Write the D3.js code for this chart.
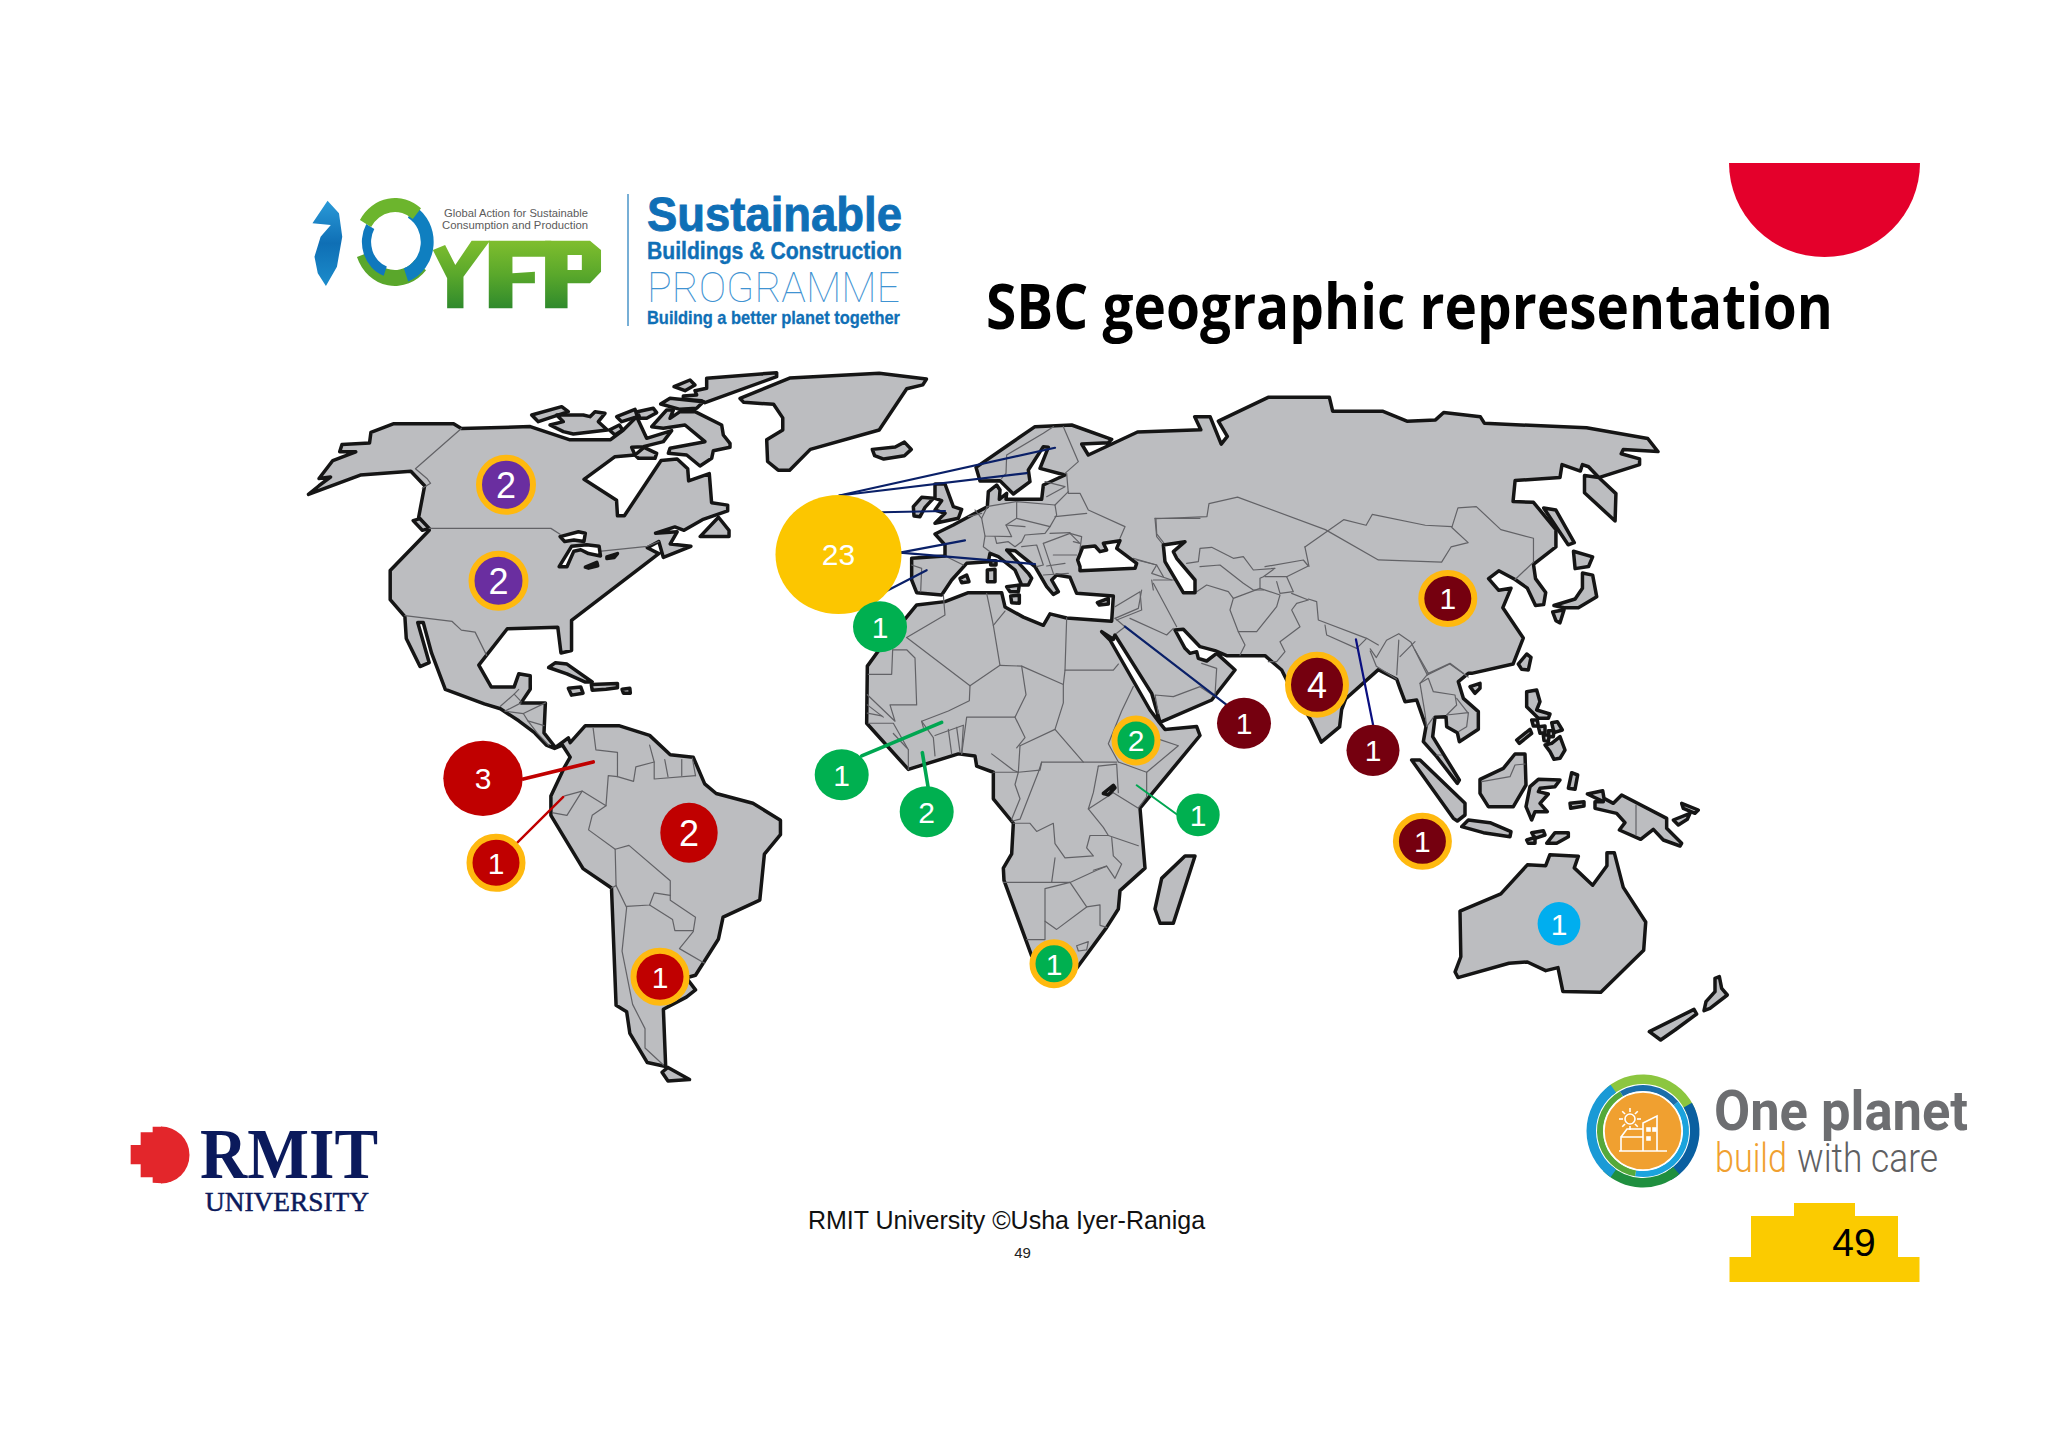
<!DOCTYPE html>
<html>
<head>
<meta charset="utf-8">
<title>SBC geographic representation</title>
<script src="https://cdn.jsdelivr.net/npm/d3@7"></script>
<style>
    html, body { margin: 0; padding: 0; background: #fff; }
    svg { display: block; }
    text { font-family: "Liberation Sans", Arial, sans-serif; }
</style>
</head>
<body>
<svg id="slide" width="2048" height="1447"></svg>
<script>
// Marker data (x/y are map positions)
const markerValues = [2, 2, 3, 1, 2, 1, 23, 1, 1, 2, 2, 1, 1, 1, 4, 1, 1, 1, 1];
const markerRegion = ["na", "na", "lac", "lac", "lac", "lac", "eur", "afr", "afr", "afr", "afr", "afr", "afr", "asia", "asia", "asia", "asia", "asia", "oce"];
const markerRing = [1, 1, 0, 1, 0, 1, 0, 0, 0, 0, 1, 0, 1, 0, 1, 0, 1, 1, 0];
const markerX = [506, 498.5, 483, 496, 689, 660, 838.5, 880, 841.7, 926.7, 1136, 1198, 1054, 1244, 1317, 1373, 1447.8, 1422.4, 1559];
const markerY = [484, 580, 777.5, 862, 832, 976, 553.7, 626, 774, 811, 739.6, 814, 963, 722.4, 684, 749.5, 597.7, 840.5, 923];
const markerRx = [30, 30, 39.7, 29.5, 28.7, 29.5, 63, 27, 27, 27, 24.5, 21.7, 24.5, 27, 32, 26.5, 29.5, 29.5, 21.4];
const markerRy = [30, 30, 37.6, 29, 30, 29, 59.6, 25.5, 25.5, 25.5, 25, 21.4, 24.5, 25.5, 33, 25.6, 28.5, 28.5, 21.7];

const regionColor = { na: "#6a2ea0", lac: "#c00000", eur: "#fcc600", afr: "#00b050", asia: "#75000f", oce: "#00aeef" };

// Leader lines from the bubbles to their countries
const leadersEur = [[[238, 332], [885, 215]], [[238, 332], [800, 277]], [[365, 373], [555, 370]],
    [[420, 472], [615, 442]], [[420, 472], [825, 500]], [[365, 572], [500, 515]], [[1095, 653], [1400, 845]]];
const leadersAfrThick = [[[305, 970], [545, 888]], [[505, 1050], [487, 962]]];
const leaderKenya = [[1250, 1113], [1130, 1042]];
const leaderIndia = [[725, 598], [767, 795]];
const leadersLac = [[[530, 885], [682, 850]], [[513, 1020], [617, 922]]];

// Traced outlines. Each list is in the units of the crop it was read from.
const northSouthAmericaA = [[62, 298], [85, 280], [110, 262], [85, 265], [115, 228], [165, 210], [130, 210], [135, 195], [195, 192], [198, 170], [248, 152], [378, 152], [395, 162], [545, 158], [630, 185], [720, 185]];
const canadaCoastR = [[310, 210], [350, 170], [380, 235], [455, 212], [430, 245], [370, 260], [335, 262], [345, 285], [285, 290], [192, 358]];
const northSouthAmericaB = [[733, 310], [735, 342], [750, 342], [830, 228], [865, 225], [888, 245], [890, 270], [935, 255], [940, 315], [975, 320], [975, 332], [920, 350], [880, 372], [860, 365], [818, 378], [865, 375], [850, 400], [895, 405], [835, 428], [825, 395], [800, 408], [825, 420], [635, 558], [635, 620], [612, 625], [605, 572], [495, 575], [433, 650], [460, 695], [510, 695], [520, 668], [545, 672], [545, 700], [525, 728], [578, 728], [575, 790], [600, 820], [628, 800], [632, 810], [665, 775], [738, 775], [805, 795], [850, 835], [900, 840], [925, 895], [950, 915], [1030, 935], [1090, 970], [1090, 1000], [1055, 1040], [1045, 1135], [965, 1170], [955, 1215], [905, 1290], [885, 1295], [905, 1320], [885, 1335], [835, 1360], [840, 1478], [800, 1470], [762, 1410], [755, 1365], [732, 1352], [722, 1110], [660, 1070], [590, 960], [590, 920], [620, 860], [632, 840], [615, 815], [598, 822], [580, 815], [555, 790], [520, 765], [480, 740], [445, 730], [360, 700], [330, 625], [312, 562], [300, 562], [325, 645], [305, 653], [275, 595], [272, 550], [240, 515], [240, 455], [325, 372], [302, 345], [315, 280], [285, 250], [175, 258]];

const eurasiaNorth = [[228, 172], [325, 105], [405, 50], [515, 45], [635, 88], [625, 98], [545, 102], [565, 135]];
const russiaChinaCoast = [[190, 120], [345, 115], [330, 85], [368, 85], [395, 148], [410, 130], [388, 95], [510, 40], [660, 40], [668, 72], [790, 72], [850, 95], [920, 92], [940, 75], [1030, 85], [1040, 100], [1290, 110], [1440, 135], [1465, 165], [1380, 160], [1375, 170], [1420, 182], [1420, 195], [1320, 225], [1295, 200], [1280, 195], [1275, 210], [1230, 195], [1225, 225], [1115, 232], [1110, 280], [1160, 282], [1215, 345], [1215, 385], [1160, 425], [1165, 458], [1190, 490], [1185, 518], [1165, 520], [1145, 480], [1115, 460], [1075, 440], [1050, 458], [1075, 485], [1105, 480], [1085, 525], [1135, 595], [1110, 655]];
const indochinaCoast = [[215, 100], [205, 100], [175, 125], [190, 175], [235, 215], [235, 268], [178, 305], [172, 278], [140, 260], [138, 230], [105, 232], [98, 290], [178, 420], [172, 430], [110, 350], [70, 305], [78, 260], [50, 180], [15, 185], [0, 145]];
const bengalCoast = [[825, 690], [780, 668], [700, 735], [690, 760], [685, 800], [640, 835], [615, 785]];
const arabiaCoast = [[560, 480], [545, 450], [495, 407], [380, 407], [345, 392], [300, 380], [250, 328], [225, 330], [255, 385], [270, 400], [290, 395], [295, 415], [320, 423], [350, 400], [405, 450], [335, 540], [180, 607], [155, 520], [45, 345], [40, 358], [5, 335], [30, 360], [150, 570], [178, 607]];
const africaCoast = [[1215, 905], [1310, 898], [1320, 920], [1140, 1098], [1155, 1245], [1080, 1300], [1075, 1345], [1040, 1390], [950, 1490], [815, 1460], [732, 1275], [730, 1245], [755, 1210], [760, 1135], [700, 1075], [700, 1010], [650, 995], [645, 970], [595, 965], [445, 1003], [320, 890], [322, 750], [362, 705], [430, 640], [470, 600], [555, 592], [625, 570], [725, 570], [735, 605], [790, 630], [850, 650], [870, 622], [920, 632], [1055, 640]];
const europeSouthCoast = [[640, 558], [530, 550], [510, 502], [470, 495], [455, 510], [475, 545], [460, 553], [440, 530], [405, 470], [345, 422], [320, 420], [385, 490], [395, 505], [385, 525], [365, 525], [345, 480], [295, 440], [270, 430], [265, 455], [200, 460], [155, 510], [125, 555], [50, 548], [35, 510], [35, 445], [135, 438], [135, 405], [105, 372], [160, 345], [262, 290], [265, 245], [290, 225], [300, 240], [298, 268], [320, 250], [318, 268], [425, 268], [430, 225], [495, 195], [420, 175], [445, 112], [430, 110], [385, 180], [390, 215], [340, 252], [300, 212], [240, 213]];

const islandsA = [
    [[290, 352], [305, 348], [325, 368], [310, 372]],
    [[1002, 100], [1110, 58], [1305, 48], [1408, 60], [1400, 72], [1365, 80], [1305, 165], [1155, 205], [1110, 248], [1085, 248], [1062, 230], [1060, 185], [1095, 165], [1095, 140], [1075, 112], [1010, 108]],
    [[1290, 205], [1340, 200], [1360, 190], [1375, 205], [1360, 218], [1315, 225], [1295, 218]],
    [[915, 385], [955, 345], [978, 372], [978, 385]],
    [[585, 655], [600, 645], [625, 648], [680, 685], [665, 685], [625, 668]],
    [[678, 690], [735, 688], [735, 697], [710, 700], [680, 702]],
    [[628, 698], [655, 695], [660, 708], [635, 712]],
    [[745, 700], [762, 698], [763, 708], [748, 708]],
    [[832, 1490], [845, 1480], [892, 1505], [845, 1508]]
];
const islandsArctic = [
    [[35, 165], [125, 140], [145, 155], [55, 185]],
    [[90, 195], [130, 185], [110, 165], [190, 165], [210, 170], [225, 155], [255, 160], [235, 185], [262, 210], [160, 222], [130, 215]],
    [[268, 210], [298, 195], [308, 210], [285, 225]],
    [[290, 170], [345, 148], [352, 170], [305, 185]],
    [[352, 155], [400, 145], [410, 158], [380, 175], [360, 175]],
    [[395, 200], [440, 150], [460, 150], [450, 175], [480, 155], [525, 155], [605, 195], [610, 225], [630, 250], [630, 262], [580, 272], [575, 295], [540, 318], [500, 285], [445, 280], [450, 265], [555, 245], [495, 195], [430, 205]],
    [[560, 55], [770, 38], [770, 50], [555, 128], [545, 122], [490, 118], [490, 108], [530, 105], [525, 92], [560, 85]],
    [[462, 80], [510, 60], [525, 75], [495, 92]],
    [[422, 132], [450, 115], [550, 125], [530, 145], [480, 148]],
    [[345, 285], [372, 262], [410, 280], [405, 295], [355, 295]]
];
const islandsEurope = [
    [[105, 222], [135, 222], [160, 290], [185, 298], [175, 325], [105, 340], [135, 310], [105, 300], [125, 272], [105, 265]],
    [[40, 290], [65, 262], [100, 265], [75, 292], [60, 320], [42, 318]],
    [[262, 480], [285, 478], [285, 515], [262, 515]],
    [[272, 452], [288, 452], [288, 465], [272, 465]],
    [[180, 505], [200, 495], [207, 515], [185, 518]],
    [[320, 530], [358, 525], [355, 545], [330, 545]],
    [[332, 558], [358, 555], [358, 580], [335, 578]],
    [[592, 578], [625, 565], [625, 582], [598, 585]]
];
const islandsAfrica = [[[1185, 1345], [1205, 1270], [1275, 1215], [1305, 1215], [1240, 1380], [1200, 1380]]];
const islandsEastAsia = [
    [[1185, 295], [1215, 300], [1260, 375], [1245, 380]],
    [[1258, 395], [1305, 408], [1295, 430], [1262, 435]],
    [[1280, 445], [1305, 450], [1315, 500], [1270, 525], [1235, 525], [1210, 520], [1262, 505], [1280, 480]],
    [[1207, 535], [1235, 530], [1225, 560], [1215, 555]],
    [[1285, 220], [1320, 225], [1362, 262], [1360, 325], [1285, 260]],
    [[980, 1225], [1080, 1185], [1145, 1118], [1190, 1120], [1200, 1095], [1270, 1098], [1260, 1125], [1305, 1165], [1340, 1120], [1340, 1090], [1358, 1090], [1380, 1170], [1435, 1250], [1430, 1315], [1325, 1412], [1232, 1410], [1220, 1355], [1190, 1362], [1145, 1342], [1100, 1345], [975, 1378], [968, 1365], [982, 1330]]
];
const islandsSouthEast = [
    [[355, 72], [380, 42], [393, 52], [385, 90], [365, 88]],
    [[210, 140], [240, 130], [240, 145], [225, 160]],
    [[380, 155], [410, 150], [420, 185], [410, 210], [450, 222], [445, 235], [415, 235], [380, 200]],
    [[435, 315], [455, 310], [480, 290], [495, 330], [480, 355], [462, 358], [450, 335]],
    [[395, 240], [412, 240], [415, 258], [400, 258]],
    [[415, 260], [435, 258], [435, 278], [420, 280]],
    [[455, 248], [472, 245], [487, 270], [462, 278]],
    [[430, 285], [448, 285], [445, 305], [432, 302]],
    [[445, 272], [462, 272], [460, 290], [447, 290]],
    [[350, 300], [390, 268], [395, 280], [358, 310]],
    [[240, 418], [310, 385], [345, 342], [375, 342], [378, 435], [340, 500], [265, 500], [240, 460]],
    [[390, 440], [415, 418], [480, 420], [465, 440], [420, 445], [415, 455], [445, 462], [420, 490], [442, 515], [405, 515], [395, 540], [378, 500]],
    [[505, 445], [515, 398], [533, 405], [525, 448]],
    [[510, 490], [552, 485], [552, 498], [512, 505]],
    [[35, 360], [60, 360], [195, 490], [195, 525], [172, 543], [160, 535]],
    [[185, 560], [205, 540], [270, 548], [333, 575], [330, 590], [250, 578]],
    [[440, 610], [465, 578], [505, 578], [505, 590], [470, 610]],
    [[395, 578], [430, 572], [435, 585], [405, 595]],
    [[380, 600], [405, 592], [405, 610], [385, 610]],
    [[562, 462], [608, 452], [612, 475], [640, 490], [665, 465], [800, 535], [800, 565], [845, 610], [840, 618], [790, 600], [760, 568], [722, 598], [658, 570], [675, 548], [650, 520], [585, 505], [585, 485], [610, 485]],
    [[820, 540], [870, 520], [862, 538], [835, 555]],
    [[845, 490], [895, 510], [885, 520], [850, 505]]
];
const islandsNewZealand = [
    [[88, 215], [222, 148], [230, 162], [165, 210], [122, 240]],
    [[252, 152], [258, 125], [285, 95], [285, 55], [298, 50], [305, 85], [322, 105], [270, 145]]
];

// Water inside the land
const watersA = [
    [[610, 385], [650, 375], [665, 378], [662, 395], [640, 392], [620, 395]],
    [[608, 447], [635, 405], [668, 402], [695, 405], [698, 425], [672, 420], [655, 412], [640, 415], [625, 447]],
    [[665, 448], [690, 438], [692, 445], [672, 450]],
    [[712, 427], [735, 420], [728, 428], [712, 430]]
];
const watersEurope = [
    [[540, 470], [533, 450], [548, 412], [585, 408], [600, 425], [620, 420], [610, 400], [660, 392], [650, 415], [690, 445], [710, 460], [705, 475], [540, 482]],
    [[790, 405], [855, 395], [820, 425], [830, 445], [885, 510], [885, 548], [850, 548], [795, 455]]
];
const watersAfrica = [[[1030, 1062], [1060, 1042], [1065, 1048], [1045, 1065]]];

// Country borders
const bordersA = [
    [[395, 162], [295, 245], [320, 265], [328, 275], [310, 285]],
    [[325, 368], [590, 368], [610, 380]], [[700, 415], [800, 405], [825, 395]],
    [[272, 548], [375, 560], [395, 578], [425, 582], [450, 630]],
    [[480, 735], [510, 710], [525, 725]], [[510, 710], [520, 700]],
    [[525, 728], [490, 745], [530, 750], [578, 728]], [[530, 750], [540, 765], [575, 775]], [[540, 765], [560, 790], [585, 815]],
    [[682, 780], [688, 825], [735, 830], [735, 880], [770, 890], [775, 860], [815, 850], [805, 815]],
    [[815, 850], [815, 885], [905, 878]], [[845, 880], [838, 845]], [[875, 878], [875, 845]], [[905, 878], [898, 842]],
    [[735, 880], [715, 878], [710, 940], [658, 910], [625, 960], [595, 955]], [[620, 920], [658, 910]],
    [[710, 940], [680, 960], [672, 990], [730, 1030], [760, 1022], [850, 1095], [850, 1135], [905, 1170], [900, 1200], [870, 1235], [925, 1265]],
    [[730, 1030], [732, 1105], [755, 1150], [745, 1240], [768, 1350], [795, 1400], [795, 1440], [835, 1475]], [[722, 1110], [732, 1105]],
    [[755, 1148], [805, 1145], [815, 1120], [850, 1125]], [[805, 1145], [855, 1175], [860, 1198], [900, 1198]]
];
const bordersAfrica = [
    [[440, 680], [555, 625], [550, 575]], [[398, 710], [395, 770], [325, 770]],
    [[440, 680], [630, 798], [720, 748], [700, 650], [680, 572]], [[700, 650], [735, 615]],
    [[920, 632], [915, 760]], [[720, 748], [785, 750], [910, 795], [915, 760], [1060, 760], [1075, 745]],
    [[398, 710], [440, 710], [465, 730], [470, 845], [390, 845], [405, 885], [322, 820]],
    [[630, 798], [628, 835], [565, 860], [485, 885], [490, 900]],
    [[785, 750], [798, 820], [765, 875], [620, 875], [605, 965]],
    [[910, 795], [910, 840], [885, 905], [780, 945]], [[885, 905], [970, 985], [1070, 985]],
    [[1120, 800], [1085, 860], [1045, 940], [1075, 985]],
    [[780, 945], [775, 1010], [840, 1005], [845, 985], [970, 985]],
    [[765, 875], [795, 925], [770, 950]], [[775, 1010], [760, 1005], [695, 965]],
    [[700, 1010], [775, 1010], [765, 1040], [780, 1075], [755, 1125]], [[845, 985], [835, 1010], [780, 1125], [755, 1130]],
    [[1015, 995], [1000, 1060], [985, 1100], [1030, 1145], [1045, 1165], [990, 1165], [980, 1195], [1000, 1215], [915, 1220], [885, 1185], [880, 1135], [830, 1155], [810, 1135], [760, 1135]],
    [[1015, 995], [1070, 990], [1075, 1060]], [[1075, 985], [1160, 1010], [1160, 1070], [1135, 1098], [1060, 1060]],
    [[1160, 1010], [1255, 945], [1200, 930]], [[985, 1100], [1060, 1060]], [[1045, 1165], [1135, 1190]],
    [[1055, 1170], [1060, 1215], [1085, 1235], [1065, 1270], [1040, 1240], [1000, 1250]],
    [[730, 1280], [875, 1280], [885, 1220]], [[875, 1280], [930, 1280], [1010, 1250], [1040, 1240]],
    [[855, 1295], [930, 1280], [980, 1340], [890, 1395], [855, 1375], [855, 1295]],
    [[980, 1340], [1020, 1335], [1020, 1385], [1040, 1390]], [[800, 1420], [855, 1420], [855, 1375]],
    [[950, 1435], [985, 1425], [980, 1445], [955, 1448], [950, 1435]],
    [[322, 845], [370, 875]], [[322, 865], [365, 872]], [[325, 890], [400, 890], [445, 955]],
    [[485, 885], [520, 925], [525, 970]], [[565, 905], [575, 965]], [[590, 900], [600, 960]], [[610, 895], [605, 965]],
    [[445, 955], [445, 1003]], [[400, 915], [440, 950]], [[525, 920], [610, 895]]
];
const bordersEurope = [
    [[460, 50], [430, 70], [320, 135], [318, 190], [305, 205]], [[490, 50], [535, 155], [495, 190]],
    [[435, 215], [495, 230], [440, 260]], [[505, 245], [465, 285]],
    [[500, 190], [505, 250], [540, 250], [565, 300], [675, 350], [660, 385]],
    [[350, 275], [465, 285], [470, 315], [450, 350], [350, 325], [350, 275]],
    [[260, 290], [348, 275]], [[350, 325], [318, 345], [335, 380], [255, 378], [245, 325], [262, 290]],
    [[205, 320], [245, 310]], [[225, 300], [245, 325]], [[255, 378], [250, 410], [270, 425]],
    [[135, 438], [190, 465]], [[35, 465], [65, 475], [62, 545]],
    [[285, 380], [290, 400], [325, 395], [345, 410], [365, 395], [375, 375], [435, 370], [450, 350]],
    [[318, 345], [375, 350]], [[430, 400], [510, 370], [545, 380], [535, 455]],
    [[465, 320], [560, 310]], [[450, 370], [510, 368]],
    [[460, 435], [530, 435]], [[495, 460], [440, 468]], [[365, 410], [410, 405], [430, 465], [410, 470]], [[430, 400], [460, 490]],
    [[430, 495], [505, 490]], [[510, 370], [540, 400], [520, 395]],
    [[700, 445], [770, 465], [790, 500]], [[755, 510], [760, 540]], [[760, 520], [830, 650]],
    [[645, 590], [720, 545], [725, 600], [650, 630]], [[765, 325], [770, 380], [790, 405]], [[765, 325], [900, 325]]
];
const bordersMiddleEast = [
    [[125, 210], [115, 265], [45, 295]], [[45, 295], [75, 320], [50, 340]], [[90, 295], [200, 345], [220, 325]],
    [[110, 120], [170, 135], [155, 160], [215, 180]], [[160, 180], [240, 180]],
    [[290, 215], [320, 195], [385, 215], [400, 235], [390, 270], [415, 335], [435, 375], [420, 405]],
    [[415, 335], [470, 335], [530, 260], [540, 225], [480, 205], [400, 235]],
    [[260, 130], [295, 125], [300, 85], [335, 82], [400, 115], [430, 110], [460, 150], [525, 145], [490, 170], [480, 175], [480, 205]],
    [[300, 140], [360, 135], [430, 190], [460, 210], [490, 210]],
    [[575, 220], [625, 240], [590, 250], [575, 270], [600, 320], [540, 365], [555, 395], [530, 425], [505, 425]],
    [[625, 237], [650, 245], [655, 300], [800, 355], [835, 375]], [[675, 315], [680, 345], [770, 385], [800, 355]],
    [[495, 170], [560, 170], [580, 215], [540, 220], [530, 185]], [[495, 140], [610, 120], [625, 138], [560, 170]],
    [[345, 530], [300, 500], [220, 530], [165, 525], [175, 580]], [[345, 525], [350, 445], [305, 430]]
];
const bordersEastAsia = [
    [[235, 320], [360, 315], [365, 285], [435, 270], [650, 345], [780, 415], [935, 420], [958, 385], [1000, 375], [960, 340], [975, 295], [1020, 292], [1080, 345], [1160, 365], [1160, 420], [1115, 460]],
    [[600, 385], [695, 322], [750, 335], [765, 310], [895, 335], [960, 338]], [[600, 385], [610, 430]],
    [[235, 320], [237, 355], [258, 380]],
    [[760, 620], [775, 640], [800, 600], [830, 585], [860, 605], [900, 680]], [[760, 625], [775, 660], [825, 690]],
    [[830, 600], [825, 680]], [[900, 680], [955, 655], [1000, 685]]
];
const bordersSouthEast = [
    [[60, 130], [85, 115], [100, 155], [165, 165], [170, 195], [140, 225]], [[170, 175], [205, 220], [200, 260], [175, 275]],
    [[140, 225], [205, 218]], [[85, 100], [60, 130], [75, 220], [80, 260], [100, 232]], [[0, 50], [45, 5]], [[45, 30], [85, 100], [150, 70], [190, 100]],
    [[110, 345], [125, 345]], [[245, 425], [330, 410], [345, 375], [375, 372]], [[708, 495], [708, 585]]
];

// The crops were scaled differently, so each one gets its own pair of scales
function frame(x0, y0, kx, ky) {
    const sx = d3.scaleLinear().domain([0, 1]).range([x0, x0 + 1 / kx]);
    const sy = d3.scaleLinear().domain([0, 1]).range([y0, y0 + 1 / ky]);
    return pts => pts.map(p => [sx(p[0]), sy(p[1])]);
}
const fA = frame(280, 350, 2.178, 2.063);
const fB = frame(760, 360, 3, 2.45);
const fC = frame(1060, 380, 2.45, 2.306);
const fArctic = frame(520, 360, 3, 3);
const fEu = frame(900, 410, 3, 3);
const fSE = frame(1400, 640, 3, 3);
const fME = frame(1100, 520, 3, 3);
const fNZ = frame(1620, 960, 3, 3);
const fYfp = frame(290, 170, 2.45, 3);
const fRmit = frame(110, 1100, 3, 3);

const svg = d3.select("#slide");
svg.append("rect").attr("width", 2048).attr("height", 1447).attr("fill", "#fff");

const closed = d3.line().curve(d3.curveLinearClosed);
const open = d3.line();

// Gradients for the 10YFP logo
const defs = svg.append("defs");
function gradient(id, colors) {
    const g = defs.append("linearGradient").attr("id", id).attr("x1", 0).attr("y1", 0).attr("x2", 0).attr("y2", 1);
    colors.forEach((c, i) => g.append("stop").attr("offset", i / (colors.length - 1)).attr("stop-color", c));
}
gradient("yfpGreen", ["#7fbe2e", "#5aa82b", "#2f8a2c"]);
gradient("yfpBlue", ["#2a9ad8", "#0f6fb5", "#1b8ccb"]);

// Red half disc at the top right
svg.append("path")
    .attr("transform", "translate(1824.5,163) scale(1,0.985)")
    .attr("d", d3.arc().innerRadius(0).outerRadius(95.5).startAngle(Math.PI / 2).endAngle(3 * Math.PI / 2)())
    .attr("fill", "#e4002b");

svg.append("text").attr("x", 986).attr("y", 329)
    .attr("font-size", 63).attr("font-weight", 700)
    .attr("textLength", 847).attr("lengthAdjust", "spacingAndGlyphs")
    .style("font-family", "'Open Sans', sans-serif")
    .attr("fill", "#000").text("SBC geographic representation");

// Map: land first, then borders, water, leaders, bubbles
const land = [
    [...fA(northSouthAmericaA), ...fArctic(canadaCoastR), ...fA(northSouthAmericaB)],
    [...fEu(eurasiaNorth), ...fC(russiaChinaCoast), ...fSE(indochinaCoast), ...fC(bengalCoast), ...fME(arabiaCoast), ...fB(africaCoast), ...fEu(europeSouthCoast)],
    ...islandsA.map(fA), ...islandsArctic.map(fArctic), ...islandsEurope.map(fEu), ...islandsAfrica.map(fB),
    ...islandsEastAsia.map(fC), ...islandsSouthEast.map(fSE), ...islandsNewZealand.map(fNZ)
];
const borders = [...bordersA.map(fA), ...bordersAfrica.map(fB), ...bordersEurope.map(fEu), ...bordersMiddleEast.map(fME), ...bordersEastAsia.map(fC), ...bordersSouthEast.map(fSE)];
const waters = [...watersA.map(fA), ...watersEurope.map(fEu), ...watersAfrica.map(fB)];

const map = svg.append("g").attr("stroke-linejoin", "round").attr("stroke-linecap", "round");
map.selectAll(".land").data(land).enter().append("path").attr("class", "land")
    .attr("d", closed).attr("fill", "#bcbdc0").attr("stroke", "#151515").attr("stroke-width", 3.5);
map.selectAll(".border").data(borders).enter().append("path").attr("class", "border")
    .attr("d", open).attr("fill", "none").attr("stroke", "#626266").attr("stroke-width", 1.2);
map.selectAll(".water").data(waters).enter().append("path").attr("class", "water")
    .attr("d", closed).attr("fill", "#fff").attr("stroke", "#151515").attr("stroke-width", 3.5);

function leader(pts, color, width) {
    map.append("path").attr("d", open(pts)).attr("fill", "none").attr("stroke", color).attr("stroke-width", width);
}
leadersEur.forEach(l => leader(fB(l), "#0a2068", 2.2));
leadersAfrThick.forEach(l => leader(fB(l), "#00a651", 3.6));
leader(fB(leaderKenya), "#00a651", 2);
leader(fC(leaderIndia), "#0a0f80", 2.2);
leader(fA(leadersLac[0]), "#c00000", 3.8);
leader(fA(leadersLac[1]), "#c00000", 2.4);

const mapX = d3.scaleLinear().domain([0, 2048]).range([0, 2048]);
const mapY = d3.scaleLinear().domain([0, 1447]).range([0.8, 1447.8]);
const markers = markerValues.map((v, i) => ({ v, region: markerRegion[i], ring: markerRing[i], x: markerX[i], y: markerY[i], rx: markerRx[i], ry: markerRy[i] }));

svg.selectAll(".bubble").data(markers).enter().append("ellipse").attr("class", "bubble")
    .attr("cx", d => mapX(d.x)).attr("cy", d => mapY(d.y))
    .attr("rx", d => d.ring ? d.rx - 3 : d.rx).attr("ry", d => d.ring ? d.ry - 3 : d.ry)
    .attr("fill", d => regionColor[d.region])
    .attr("stroke", d => d.ring ? "#ffb90f" : "none").attr("stroke-width", 6);

svg.selectAll(".count").data(markers).enter().append("text").attr("class", "count")
    .attr("x", d => mapX(d.x)).attr("y", d => mapY(d.y))
    .attr("dy", "0.36em").attr("text-anchor", "middle").attr("fill", "#fff")
    .attr("font-size", d => d.v === 4 || d.region === "na" ? 36 : (d.rx > 28 && d.region === "lac" && !d.ring && d.v === 2 ? 36 : 30))
    .text(d => d.v);

// 10YFP logo
const yfp = svg.append("g");
function yfpShape(pts, color) {
    yfp.append("path").attr("d", closed(fYfp(pts))).attr("fill", color);
}
yfpShape([[92, 92], [120, 130], [128, 200], [115, 290], [88, 348], [68, 310], [60, 260], [75, 200], [100, 165], [55, 160]], "url(#yfpBlue)");
const ring = d3.arc();
const ringParts = [
    [130, 250, 28, 44, "#5aa72b"], [200, 300, 26, 36, "#0f78bd"], [30, 160, 28, 42, "#0f7fc0"], [-60, 40, 30, 44, "#6cb52d"]
];
ringParts.forEach(p => {
    yfp.append("path").attr("transform", "translate(395,242) scale(0.92,1)")
        .attr("d", ring({ startAngle: p[0] * Math.PI / 180, endAngle: p[1] * Math.PI / 180, innerRadius: p[2], outerRadius: p[3] }))
        .attr("fill", p[4]);
});
yfpShape([[350, 240], [385, 325], [385, 415], [425, 415], [425, 320], [490, 212], [445, 212], [405, 285], [380, 225]], "url(#yfpGreen)");
yfpShape([[487, 212], [640, 212], [640, 260], [545, 260], [545, 310], [600, 305], [600, 340], [545, 340], [545, 415], [487, 415]], "url(#yfpGreen)");
yfp.append("path").attr("fill-rule", "evenodd").attr("fill", "url(#yfpGreen)")
    .attr("d", closed(fYfp([[625, 212], [735, 212], [762, 240], [762, 305], [735, 340], [680, 340], [680, 415], [625, 415]])) +
        closed(fYfp([[680, 255], [715, 255], [715, 300], [680, 300]])));

const logoLines = [
    ["Global Action for Sustainable", 444, 217, 144, 11.5, 400, "#5b5b5b", 0],
    ["Consumption and Production", 442, 229, 146, 11.5, 400, "#5b5b5b", 0],
    ["Sustainable", 647, 231, 255, 49, 700, "#0f6fb6", 0.9],
    ["Buildings & Construction", 647, 259, 255, 23, 700, "#0f6fb6", 0.4],
    ["Building a better planet together", 647, 324, 253, 19, 700, "#0f6fb6", 0.3]
];
logoLines.forEach(l => {
    svg.append("text").attr("x", l[1]).attr("y", l[2]).attr("textLength", l[3]).attr("lengthAdjust", "spacingAndGlyphs")
        .attr("font-size", l[4]).attr("font-weight", l[5]).attr("fill", l[6])
        .attr("stroke", l[7] ? l[6] : "none").attr("stroke-width", l[7]).text(l[0]);
});
svg.append("text").attr("x", 647).attr("y", 302).attr("textLength", 253).attr("lengthAdjust", "spacingAndGlyphs")
    .attr("font-size", 42).attr("font-weight", 100).style("font-family", "Roboto, sans-serif").attr("fill", "#3f93d2").text("PROGRAMME");
svg.append("line").attr("x1", 628).attr("x2", 628).attr("y1", 194).attr("y2", 326).attr("stroke", "#4a94c8").attr("stroke-width", 1.5);

// RMIT logo
svg.append("path")
    .attr("d", closed(fRmit([[62, 135], [92, 135], [92, 97], [128, 97], [128, 80], [155, 80], [155, 250], [128, 248], [128, 232], [92, 232], [92, 193], [62, 193]])))
    .attr("fill", "#e3262b");
svg.append("path").attr("transform", "translate(161,1155)")
    .attr("d", d3.arc().innerRadius(0).outerRadius(28.5).startAngle(0).endAngle(Math.PI)())
    .attr("fill", "#e3262b");
svg.append("text").attr("x", 200).attr("y", 1178).attr("textLength", 178).attr("lengthAdjust", "spacingAndGlyphs")
    .attr("font-size", 72).attr("font-weight", 700).style("font-family", "'Liberation Serif', serif").attr("fill", "#0b1a5c").text("RMIT");
svg.append("text").attr("x", 205).attr("y", 1211).attr("textLength", 164).attr("lengthAdjust", "spacingAndGlyphs")
    .attr("font-size", 27).style("font-family", "'Liberation Serif', serif").attr("stroke", "#0b1a5c").attr("stroke-width", 0.5).attr("fill", "#0b1a5c").text("UNIVERSITY");

// One planet logo
const op = svg.append("g").attr("transform", "translate(1643,1131)");
const opRings = [
    [-40, 70, 47, 56.5, "#8cc63f"], [60, 150, 47, 56.5, "#0a5fa0"], [140, 225, 47, 56.5, "#1f8f3f"], [215, 325, 47, 56.5, "#1a9ad6"],
    [50, 190, 40, 46, "#1ba3dd"], [190, 330, 40, 46, "#55a93a"], [-30, 50, 40, 46, "#1a6eaa"]
];
opRings.forEach(p => {
    op.append("path").attr("d", ring({ startAngle: p[0] * Math.PI / 180, endAngle: p[1] * Math.PI / 180, innerRadius: p[2], outerRadius: p[3] })).attr("fill", p[4]);
});
op.append("circle").attr("r", 39).attr("fill", "#f0a030").attr("stroke", "#fff").attr("stroke-width", 1.5);
const icon = op.append("g").attr("fill", "none").attr("stroke", "#fff").attr("stroke-width", 1.6);
icon.append("circle").attr("cx", -13).attr("cy", -12).attr("r", 5);
d3.range(0, 360, 45).forEach(a => {
    const r = a * Math.PI / 180;
    icon.append("line").attr("x1", -13 + 7 * Math.cos(r)).attr("y1", -12 + 7 * Math.sin(r)).attr("x2", -13 + 11 * Math.cos(r)).attr("y2", -12 + 11 * Math.sin(r));
});
icon.append("path").attr("d", "M0,20V-8L14,-15V20M-22,20V6H0M-22,6L-16,-2H0M-24,20H24");
icon.append("rect").attr("x", 4).attr("y", -3).attr("width", 3).attr("height", 3).attr("fill", "#fff");
icon.append("rect").attr("x", 10).attr("y", -3).attr("width", 3).attr("height", 3).attr("fill", "#fff");
icon.append("rect").attr("x", 4).attr("y", 6).attr("width", 3).attr("height", 3).attr("fill", "#fff");

svg.append("text").attr("x", 1714).attr("y", 1130).attr("textLength", 254).attr("lengthAdjust", "spacingAndGlyphs")
    .attr("font-size", 56).attr("font-weight", 700).style("font-family", "Roboto, sans-serif").attr("fill", "#6d6e71").text("One planet");
svg.append("text").attr("x", 1715).attr("y", 1172).attr("textLength", 72).attr("lengthAdjust", "spacingAndGlyphs")
    .attr("font-size", 41).attr("font-weight", 300).style("font-family", "Roboto, sans-serif").attr("fill", "#f0a030").text("build");
svg.append("text").attr("x", 1797).attr("y", 1172).attr("textLength", 141).attr("lengthAdjust", "spacingAndGlyphs")
    .attr("font-size", 41).attr("font-weight", 300).style("font-family", "Roboto, sans-serif").attr("fill", "#5f6062").text("with care");

// Stepped page number block
const blockX = [1729.5, 1751, 1794, 1855, 1898, 1919.5];
const blockY = [1203, 1216, 1257, 1282];
svg.append("path").attr("fill", "#fbcb00").attr("d", closed([
    [blockX[0], blockY[2]], [blockX[1], blockY[2]], [blockX[1], blockY[1]], [blockX[2], blockY[1]], [blockX[2], blockY[0]],
    [blockX[3], blockY[0]], [blockX[3], blockY[1]], [blockX[4], blockY[1]], [blockX[4], blockY[2]], [blockX[5], blockY[2]],
    [blockX[5], blockY[3]], [blockX[0], blockY[3]]
]));
svg.append("text").attr("x", 1854).attr("y", 1256).attr("text-anchor", "middle").attr("font-size", 39).attr("fill", "#000").text("49");

// Footer
svg.append("text").attr("x", 1006.5).attr("y", 1229).attr("text-anchor", "middle").attr("font-size", 25).attr("fill", "#111").text("RMIT University ©Usha Iyer-Raniga");
svg.append("text").attr("x", 1022.6).attr("y", 1258).attr("text-anchor", "middle").attr("font-size", 15).attr("fill", "#222").text("49");
</script>
</body>
</html>
